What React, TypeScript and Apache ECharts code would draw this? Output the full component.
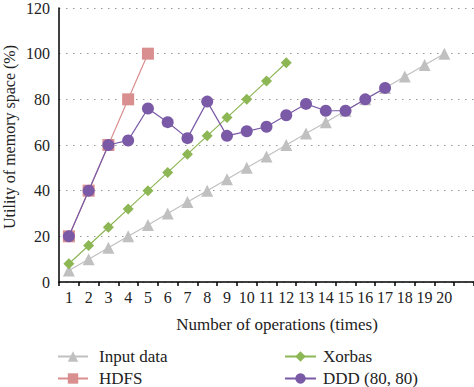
import React, { useEffect, useRef } from "react";
import * as echarts from "echarts";

const categories = ["1", "2", "3", "4", "5", "6", "7", "8", "9", "10", "11", "12", "13", "14", "15", "16", "17", "18", "19", "20", ""];
const inputData = [5, 10, 15, 20, 25, 30, 35, 40, 45, 50, 55, 60, 65, 70, 75, 80, 85, 90, 95, 100];
const hdfs = [20, 40, 60, 80, 100];
const xorbas = [8, 16, 24, 32, 40, 48, 56, 64, 72, 80, 88, 96];
const ddd = [20, 40, 60, 62, 76, 70, 63, 79, 64, 66, 68, 73, 78, 75, 75, 80, 85];

const FONT = "'Liberation Serif', 'Times New Roman', serif";

export default function App() {
  const ref = useRef<HTMLDivElement>(null);
  useEffect(() => {
    if (!ref.current) return;
    const chart = echarts.init(ref.current, undefined, { renderer: "svg" });
    const mk = (name: string, data: number[], color: string, symbol: string, size: number) => ({
      name,
      type: "line",
      data,
      symbol,
      symbolSize: size,
      itemStyle: { color },
      lineStyle: { color, width: 1.2 },
      z: name === "DDD (80, 80)" ? 5 : 3,
    });
    const legendText = (pad: number) => ({
      fontSize: 17,
      color: "#222",
      fontFamily: FONT,
      padding: [0, 0, 0, pad],
    });
    chart.setOption({
      animation: false,
      textStyle: { fontFamily: FONT },
      grid: { left: 59, top: 5, right: 0, bottom: 105 },
      xAxis: {
        type: "category",
        data: categories,
        boundaryGap: true,
        axisLine: { lineStyle: { color: "#000", width: 1.5 } },
        axisTick: { show: true, length: 4, lineStyle: { color: "#000", width: 1.5 } },
        axisLabel: { interval: 0, color: "#222", fontSize: 16, fontFamily: FONT, margin: 7 },
        splitLine: { show: false },
      },
      yAxis: {
        type: "value",
        min: 0,
        max: 120,
        interval: 20,
        axisLine: { show: true, lineStyle: { color: "#000", width: 1.5 } },
        axisTick: { show: false },
        axisLabel: { color: "#222", fontSize: 16, fontFamily: FONT, margin: 9 },
        splitLine: { show: true, lineStyle: { color: "#999", type: [1.5, 5.5], width: 1.2 } },
      },
      legend: [
        {
          data: ["Input data", "HDFS"],
          orient: "vertical",
          left: 57,
          top: 348,
          width: 200,
          height: 200,
          padding: 0,
          itemWidth: 30,
          itemHeight: 13,
          itemGap: 5,
          textStyle: legendText(6),
        },
        {
          data: ["Xorbas", "DDD (80, 80)"],
          orient: "vertical",
          left: 284,
          top: 348,
          width: 190,
          height: 200,
          padding: 0,
          itemWidth: 31,
          itemHeight: 13,
          itemGap: 5,
          textStyle: legendText(2),
        },
      ],
      graphic: [
        {
          type: "text",
          x: 277,
          y: 324,
          style: {
            text: "Number of operations (times)",
            fontSize: 17,
            fontFamily: FONT,
            fill: "#222",
            textAlign: "center",
            textVerticalAlign: "middle",
          },
        },
        {
          type: "text",
          x: 9,
          y: 137,
          rotation: Math.PI / 2,
          style: {
            text: "Utility of memory space (%)",
            fontSize: 16,
            fontFamily: FONT,
            fill: "#222",
            textAlign: "center",
            textVerticalAlign: "middle",
          },
        },
      ],
      series: [
        mk("Input data", inputData, "#c0c0c0", "triangle", 12),
        mk("HDFS", hdfs, "#d98f8f", "rect", 12),
        mk("Xorbas", xorbas, "#8db655", "diamond", 11),
        mk("DDD (80, 80)", ddd, "#7a5aa6", "circle", 12),
      ],
    });
    return () => chart.dispose();
  }, []);
  return <div ref={ref} style={{ width: 474, height: 387, position: "absolute", left: 0, top: 0 }} />;
}
